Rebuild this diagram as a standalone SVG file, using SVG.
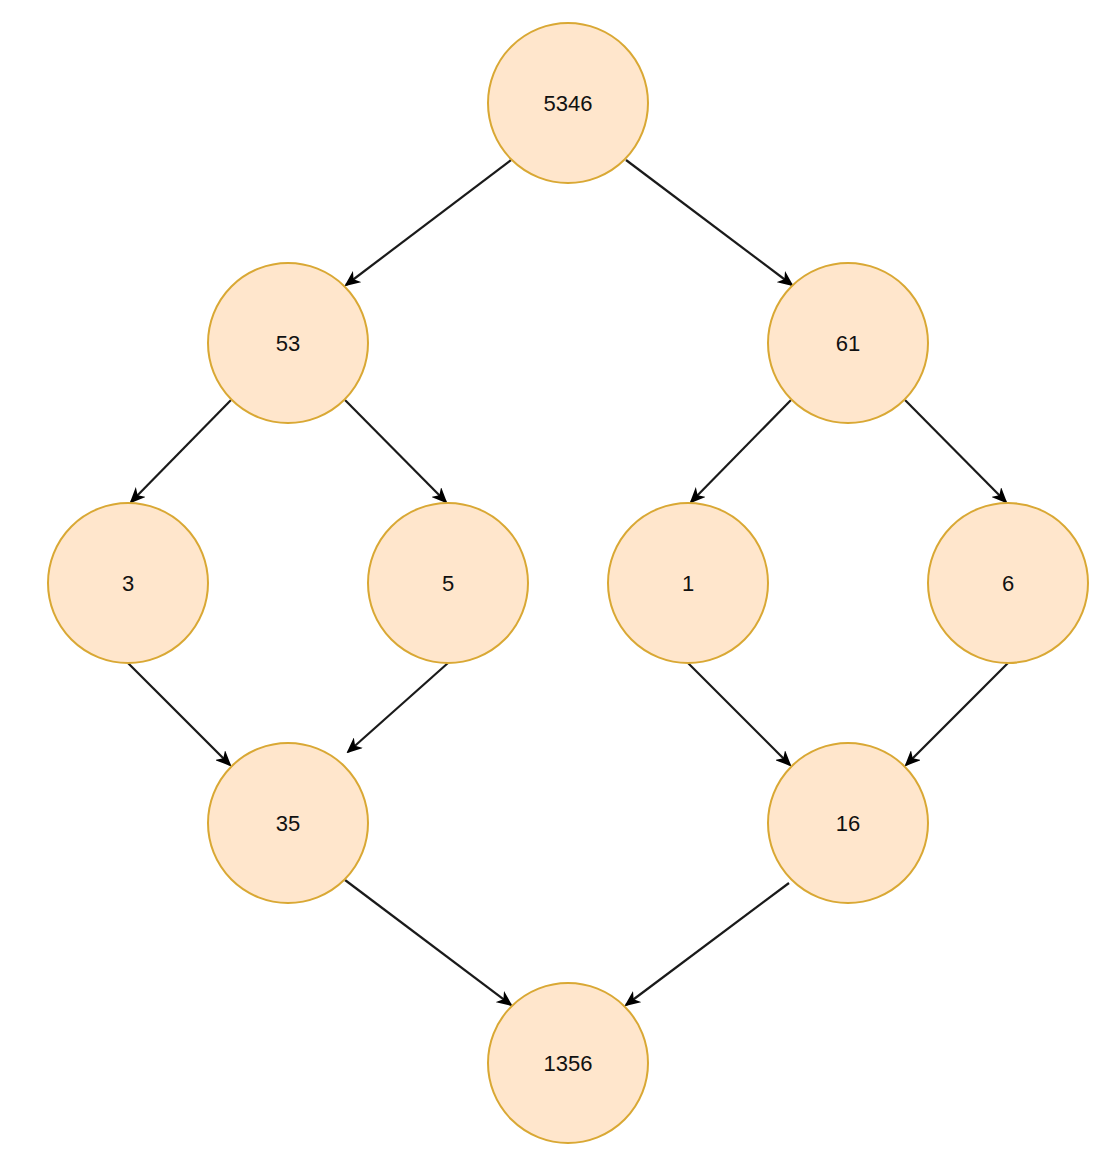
<svg xmlns="http://www.w3.org/2000/svg" width="1096" height="1152" viewBox="0 0 1096 1152">
<style>
.node circle{fill:#ffe6cc;stroke:#d9a834;stroke-width:2}
.node text{font-family:"Liberation Sans",Arial,sans-serif;font-size:22px;fill:#111;text-anchor:middle;dominant-baseline:central}
.edges line{stroke:#1a1a1a;stroke-width:2.2;marker-end:url(#arr)}
</style>
<defs>
<marker id="arr" viewBox="0 0 16 14" refX="14" refY="7" markerWidth="16" markerHeight="14" markerUnits="userSpaceOnUse" orient="auto">
<path d="M0,0 L16,7 L0,14 L4.5,7 Z" fill="#000"/>
</marker>
</defs>
<rect width="1096" height="1152" fill="#fff"/>
<g class="edges">
<line x1="511" y1="160" x2="346" y2="285"/>
<line x1="626" y1="160" x2="792" y2="285"/>
<line x1="231" y1="400" x2="131" y2="502"/>
<line x1="345" y1="400" x2="446" y2="502"/>
<line x1="791" y1="400" x2="691" y2="502"/>
<line x1="905" y1="400" x2="1006" y2="502"/>
<line x1="128" y1="663" x2="230" y2="765"/>
<line x1="448" y1="663" x2="348" y2="752"/>
<line x1="688" y1="663" x2="790" y2="765"/>
<line x1="1008" y1="663" x2="906" y2="765"/>
<line x1="345" y1="880" x2="511" y2="1005"/>
<line x1="789" y1="883" x2="626" y2="1005"/>
</g>
<g id="n5346" class="node"><circle cx="568" cy="103" r="80"/><text x="568" y="103">5346</text></g>
<g id="n53" class="node"><circle cx="288" cy="343" r="80"/><text x="288" y="343">53</text></g>
<g id="n61" class="node"><circle cx="848" cy="343" r="80"/><text x="848" y="343">61</text></g>
<g id="n3" class="node"><circle cx="128" cy="583" r="80"/><text x="128" y="583">3</text></g>
<g id="n5" class="node"><circle cx="448" cy="583" r="80"/><text x="448" y="583">5</text></g>
<g id="n1" class="node"><circle cx="688" cy="583" r="80"/><text x="688" y="583">1</text></g>
<g id="n6" class="node"><circle cx="1008" cy="583" r="80"/><text x="1008" y="583">6</text></g>
<g id="n35" class="node"><circle cx="288" cy="823" r="80"/><text x="288" y="823">35</text></g>
<g id="n16" class="node"><circle cx="848" cy="823" r="80"/><text x="848" y="823">16</text></g>
<g id="n1356" class="node"><circle cx="568" cy="1063" r="80"/><text x="568" y="1063">1356</text></g>
</svg>
